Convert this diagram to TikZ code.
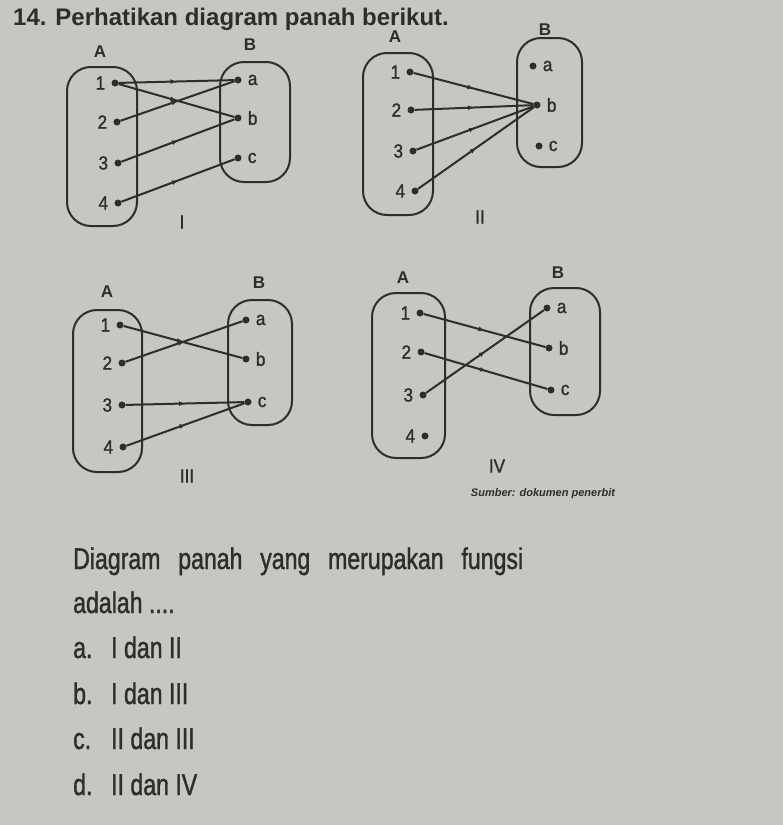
\documentclass[tikz,border=0pt]{standalone}
\usepackage{fontspec}
\setmainfont{Liberation Sans}
\newfontfamily\soalfont{Liberation Sans}[FakeStretch=0.77,FakeBold=1.2]
\newfontfamily\labelfont{Liberation Sans}[FakeStretch=0.9,FakeBold=1.2]
\usetikzlibrary{arrows.meta,decorations.markings}

\definecolor{kertas}{RGB}{200,198,192}
\definecolor{tinta}{RGB}{45,45,45}

\tikzset{
  anggota/.style={circle,fill=tinta,inner sep=0pt,minimum size=7pt},
  lbl/.style={text=tinta,font=\labelfont\fontsize{19}{19}\selectfont,inner sep=1pt},
  judulhimp/.style={text=tinta,font=\bfseries\fontsize{17}{17}\selectfont},
  nomor/.style={text=tinta,font=\labelfont\fontsize{19}{19}\selectfont},
  himpunan/.style={draw=tinta,line width=2pt,rounded corners=24pt},
  panah/.style={draw=tinta,line width=2pt,postaction={decorate},
    decoration={markings,mark=at position 0.5 with {\arrow{Latex[length=6pt,width=5pt]}}}},
  soal/.style={text=tinta,anchor=base west,inner sep=0pt,font=\soalfont\fontsize{30}{30}\selectfont},
}

\begin{document}
\begin{tikzpicture}[x=1pt,y=-1pt,label distance=5pt,every label/.style={lbl}]
  \fill[kertas] (0,0) rectangle (783,825);
  \useasboundingbox (0,0) rectangle (783,825);

  \node[anchor=base west,inner sep=0pt,text=tinta,font=\bfseries\fontsize{24}{24}\selectfont] (judul) at (13,25) {14. Perhatikan diagram panah berikut.};

  % diagram I
  \draw[himpunan] (67,67) rectangle (137,226);
  \draw[himpunan] (220,62) rectangle (290,182);
  \node[judulhimp] (IA) at (100,52) {A};
  \node[judulhimp] (IB) at (250,45) {B};
  \node[anggota,label=left:1] (I1) at (115,83) {};
  \node[anggota,label=left:2] (I2) at (117,122) {};
  \node[anggota,label=left:3] (I3) at (118,163) {};
  \node[anggota,label=left:4] (I4) at (118,203) {};
  \node[anggota,label=right:a] (Ia) at (238,80) {};
  \node[anggota,label=right:b] (Ib) at (238,118) {};
  \node[anggota,label=right:c] (Ic) at (238,158) {};
  \draw[panah] (I1) -- (Ia);
  \draw[panah] (I1) -- (Ib);
  \draw[panah] (I2) -- (Ia);
  \draw[panah] (I3) -- (Ib);
  \draw[panah] (I4) -- (Ic);
  \node[nomor] (noI) at (182,222) {I};

  % diagram II
  \draw[himpunan] (363,53) rectangle (433,215);
  \draw[himpunan] (517,38) rectangle (582,167);
  \node[judulhimp] (IIA) at (395,37) {A};
  \node[judulhimp] (IIB) at (545,30) {B};
  \node[anggota,label=left:1] (II1) at (410,72) {};
  \node[anggota,label=left:2] (II2) at (411,110) {};
  \node[anggota,label=left:3] (II3) at (413,151) {};
  \node[anggota,label=left:4] (II4) at (415,191) {};
  \node[anggota,label=right:a] (IIa) at (533,66) {};
  \node[anggota,label=right:b] (IIb) at (537,105) {};
  \node[anggota,label=right:c] (IIc) at (539,146) {};
  \foreach \i in {1,...,4}
    \draw[panah] (II\i) -- (IIb);
  \node[nomor] (noII) at (480,217) {II};

  % diagram III
  \draw[himpunan] (73,310) rectangle (142,472);
  \draw[himpunan] (228,300) rectangle (292,425);
  \node[judulhimp] (IIIA) at (107,292) {A};
  \node[judulhimp] (IIIB) at (259,283) {B};
  \node[anggota,label=left:1] (III1) at (120,325) {};
  \node[anggota,label=left:2] (III2) at (122,363) {};
  \node[anggota,label=left:3] (III3) at (122,405) {};
  \node[anggota,label=left:4] (III4) at (123,447) {};
  \node[anggota,label=right:a] (IIIa) at (246,320) {};
  \node[anggota,label=right:b] (IIIb) at (246,359) {};
  \node[anggota,label=right:c] (IIIc) at (248,402) {};
  \draw[panah] (III1) -- (IIIb);
  \draw[panah] (III2) -- (IIIa);
  \draw[panah] (III3) -- (IIIc);
  \draw[panah] (III4) -- (IIIc);
  \node[nomor] (noIII) at (187,476) {III};

  % diagram IV
  \draw[himpunan] (372,293) rectangle (445,458);
  \draw[himpunan] (530,288) rectangle (600,415);
  \node[judulhimp] (IVA) at (403,278) {A};
  \node[judulhimp] (IVB) at (558,273) {B};
  \node[anggota,label=left:1] (IV1) at (420,313) {};
  \node[anggota,label=left:2] (IV2) at (421,352) {};
  \node[anggota,label=left:3] (IV3) at (423,395) {};
  \node[anggota,label=left:4] (IV4) at (425,436) {};
  \node[anggota,label=right:a] (IVa) at (547,308) {};
  \node[anggota,label=right:b] (IVb) at (549,348) {};
  \node[anggota,label=right:c] (IVc) at (551,390) {};
  \draw[panah] (IV1) -- (IVb);
  \draw[panah] (IV2) -- (IVc);
  \draw[panah] (IV3) -- (IVa);
  \node[nomor] (noIV) at (497,466) {IV};

  \node[text=tinta,font=\bfseries\itshape\fontsize{11}{11}\selectfont] (sumber) at (543,494) {Sumber: dokumen penerbit};

  % soal
  \node[soal] (tanya) at (73,569) {\makebox[450pt][s]{Diagram panah yang merupakan fungsi}};
  \node[soal] (adalah) at (73,613) {adalah ....};
  \node[soal] (pa) at (73,658) {\makebox[38pt][l]{a.}I dan II};
  \node[soal] (pb) at (73,704) {\makebox[38pt][l]{b.}I dan III};
  \node[soal] (pc) at (73,749) {\makebox[38pt][l]{c.}II dan III};
  \node[soal] (pd) at (73,795) {\makebox[38pt][l]{d.}II dan IV};
\end{tikzpicture}
\end{document}
